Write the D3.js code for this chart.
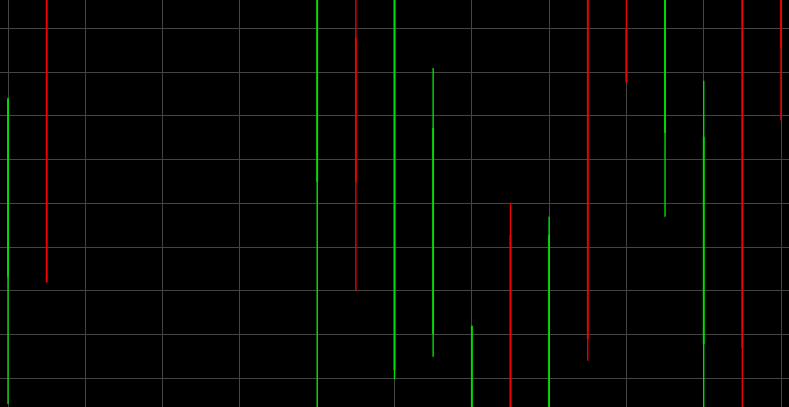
<!DOCTYPE html>
<html>
<head>
<meta charset="utf-8">
<script src="https://cdn.jsdelivr.net/npm/d3@7"></script>
<style>
  html, body { margin: 0; padding: 0; background: #000; overflow: hidden; }
</style>
</head>
<body>
<div id="chart"></div>
<script>
let width = 789;
let height = 407;

// candle slot index (slots 2..7 hold nothing in view)
let slots  = [0, 1, 8, 9, 10, 11, 12, 13, 14, 15, 16, 17, 18, 19, 20];
let opens  = [4.32, 11.2, 6.49, 9.78, 2.19, 3.01, 1.10, 5.28, 1.20, 11.0, 10.0, 7.61, 2.78, 11.0, 10.9];
let highs  = [8.41, 11.5, 11.3, 10.9, 10.9, 9.09, 3.20, 6.01, 5.69, 11.2, 10.9, 11.0, 8.80, 11.2, 11.0];
let lows   = [1.41, 4.19, 1.20, 4.00, 1.98, 2.49, 1.00, 0.90, 1.00, 2.40, 8.76, 5.69, 1.10, 1.10, 7.90];
let closes = [8.38, 4.20, 11.0, 6.49, 10.8, 7.72, 3.20, 1.10, 5.28, 2.90, 8.77, 10.9, 7.52, 2.69, 9.55];

let candles = slots.map((s, i) => ({slot: s, o: opens[i], h: highs[i], l: lows[i], c: closes[i]}));

let svg = d3.select('#chart')
  .append('svg')
  .attr('width', width)
  .attr('height', height);

svg.append('rect')
  .attr('width', width)
  .attr('height', height)
  .attr('fill', '#000');

let xScale = d3.scaleLinear().domain([0, 20]).range([8, 781]);
let yScale = d3.scaleLinear().domain([1.344, 10.647]).range([height, 0]);

// grid
let gridX = d3.range(0, 21, 2);
svg.selectAll('.vgrid').data(gridX).enter()
  .append('line')
  .attr('class', 'vgrid')
  .attr('x1', d => xScale(d)).attr('x2', d => xScale(d))
  .attr('y1', 0).attr('y2', height)
  .attr('stroke', '#444')
  .attr('shape-rendering', 'crispEdges');

svg.selectAll('.hgrid').data(yScale.ticks(9)).enter()
  .append('line')
  .attr('class', 'hgrid')
  .attr('x1', 0).attr('x2', width)
  .attr('y1', d => yScale(d)).attr('y2', d => yScale(d))
  .attr('stroke', '#444')
  .attr('shape-rendering', 'crispEdges');

let upColor = '#00e000';
let downColor = '#f00000';

let g = svg.selectAll('.candle').data(candles).enter()
  .append('g')
  .attr('class', 'candle');

// wick
g.append('line')
  .attr('x1', d => xScale(d.slot)).attr('x2', d => xScale(d.slot))
  .attr('y1', d => yScale(d.h)).attr('y2', d => yScale(d.l))
  .attr('stroke', d => d.c >= d.o ? upColor : downColor)
  .attr('stroke-width', 1.4);

// body
g.append('rect')
  .attr('x', d => xScale(d.slot) - 0.9)
  .attr('width', 1.8)
  .attr('y', d => yScale(Math.max(d.o, d.c)))
  .attr('height', d => Math.max(1, Math.abs(yScale(d.o) - yScale(d.c))))
  .attr('fill', d => d.c >= d.o ? upColor : downColor);
</script>
</body>
</html>
